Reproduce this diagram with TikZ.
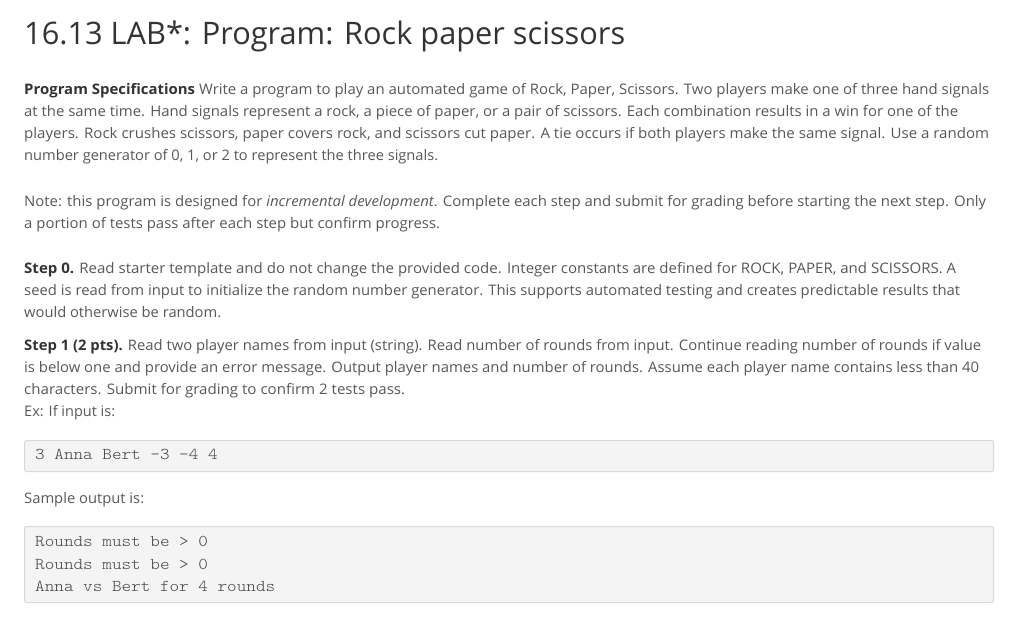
\documentclass[tikz,border=0pt]{standalone}
\usepackage{fontspec}
\usepackage{graphicx}
\setmainfont{Open Sans}
\newfontfamily\courfont{lmmonolt10-regular.otf}
\definecolor{bodytext}{HTML}{585858}
\definecolor{titletext}{HTML}{333333}
\definecolor{codefill}{HTML}{F4F4F4}
\definecolor{codeline}{HTML}{D9D9D9}
\definecolor{codetext}{HTML}{444444}
\newsavebox\lnbox
\newcommand\fitw[2]{\sbox\lnbox{#2}\pgfmathsetmacro\rr{#1/\the\wd\lnbox}\scalebox{\rr}[1]{\usebox\lnbox}}
\newcommand\bt[1]{{\bfseries\color{titletext}#1}}
\begin{document}
\begin{tikzpicture}[x=1pt,y=-1pt,
  txt/.style={anchor=base west, inner sep=0pt, text=bodytext, font=\fontsize{14.5}{18}\selectfont},
  ttl/.style={anchor=base west, inner sep=0pt, text=titletext, font=\fontsize{31}{38}\selectfont},
  codebox/.style={draw=codeline, fill=codefill, line width=1pt, rounded corners=2pt},
  code/.style={anchor=base west, inner sep=0pt, text=codetext, font=\courfont\fontsize{16.5}{19}\selectfont}]
\useasboundingbox[fill=white] (0,0) rectangle (1022,619);
\node[ttl] (title) at (24,44) {\fitw{601}{16.13 LAB*: Program: Rock paper scissors}};
% Program specifications
\node[txt] (p1a) at (24,94) {\fitw{965}{\bt{Program Specifications} Write a program to play an automated game of Rock, Paper, Scissors. Two players make one of three hand signals}};
\node[txt] (p1b) at (24,116) {\fitw{934}{at the same time. Hand signals represent a rock, a piece of paper, or a pair of scissors. Each combination results in a win for one of the}};
\node[txt] (p1c) at (24,138) {\fitw{965}{players. Rock crushes scissors, paper covers rock, and scissors cut paper. A tie occurs if both players make the same signal. Use a random}};
\node[txt] (p1d) at (24,160) {\fitw{414}{number generator of 0, 1, or 2 to represent the three signals.}};
% Note
\node[txt] (p2a) at (24,206) {\fitw{962}{Note: this program is designed for \textit{incremental development}. Complete each step and submit for grading before starting the next step. Only}};
\node[txt] (p2b) at (24,228) {\fitw{416}{a portion of tests pass after each step but confirm progress.}};
% Step 0
\node[txt] (p3a) at (24,273) {\fitw{932}{\bt{Step 0.} Read starter template and do not change the provided code. Integer constants are defined for ROCK, PAPER, and SCISSORS. A}};
\node[txt] (p3b) at (24,295) {\fitw{936}{seed is read from input to initialize the random number generator. This supports automated testing and creates predictable results that}};
\node[txt] (p3c) at (24,317) {\fitw{197}{would otherwise be random.}};
% Step 1
\node[txt] (p4a) at (24,350) {\fitw{957}{\bt{Step 1 (2 pts).} Read two player names from input (string). Read number of rounds from input. Continue reading number of rounds if value}};
\node[txt] (p4b) at (24,372) {\fitw{955}{is below one and provide an error message. Output player names and number of rounds. Assume each player name contains less than 40}};
\node[txt] (p4c) at (24,394) {\fitw{381}{characters. Submit for grading to confirm 2 tests pass.}};
\node[txt] (p4d) at (24,416) {\fitw{91}{Ex: If input is:}};
% input box
\draw[codebox] (24.5,440.5) rectangle (993.5,471.5);
\node[code] (in1) at (35,459) {\fitw{182.4}{3 Anna Bert -3 -4 4}};
\node[txt] (samp) at (24,503) {\fitw{120}{Sample output is:}};
% output box
\draw[codebox] (24.5,526.5) rectangle (993.5,602.5);
\node[code] (out1) at (35,546) {\fitw{172.8}{Rounds must be > 0}};
\node[code] (out2) at (35,569) {\fitw{172.8}{Rounds must be > 0}};
\node[code] (out3) at (35,591) {\fitw{240}{Anna vs Bert for 4 rounds}};
\end{tikzpicture}
\end{document}
